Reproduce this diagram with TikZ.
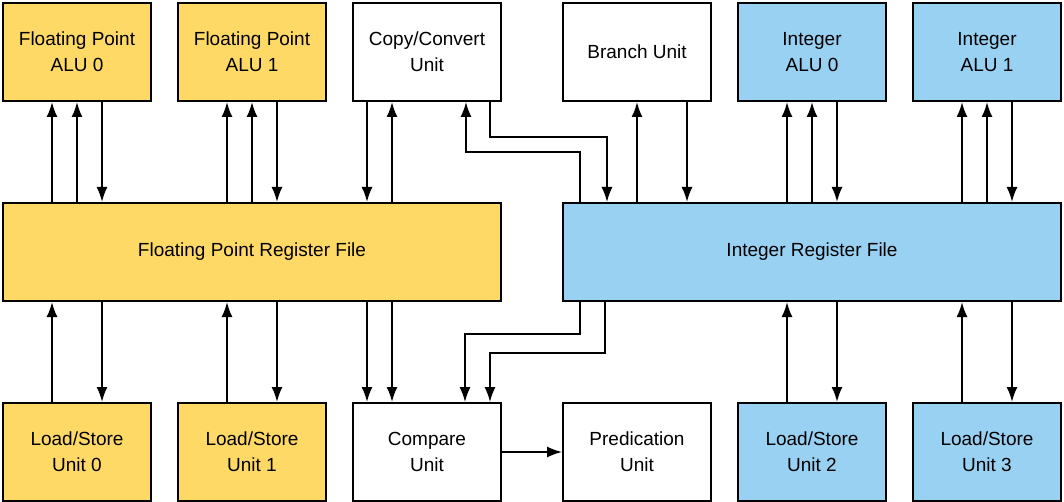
\documentclass[tikz,border=0pt]{standalone}
\usepackage{fontspec}
\setmainfont{Liberation Sans}
\usetikzlibrary{arrows.meta}
\definecolor{fpyel}{HTML}{FFD966}
\definecolor{intblu}{HTML}{99D1F3}

\tikzset{
	unit/.style={draw,line width=2pt,minimum width=148pt,minimum height=98pt,align=center,font=\fontsize{19}{26}\selectfont},
	regf/.style={unit,minimum width=498pt},
	arr/.style={line width=2pt,-{Latex[length=15pt,width=11pt]}},
	wire/.style={line width=1.5pt,-{Latex[length=15pt,width=11pt]}}
}

\begin{document}
\begin{tikzpicture}[x=1pt,y=-1pt]
	\useasboundingbox (0,0) rectangle (1064,502);
	
	% top row
	\node[unit,fill=fpyel] (fa0) at (77,52) {Floating Point\\ALU 0};
	\node[unit,fill=fpyel] (fa1) at (252,52) {Floating Point\\ALU 1};
	\node[unit] (cc) at (427,52) {Copy/Convert\\Unit};
	\node[unit] (br) at (637,52) {Branch Unit};
	\node[unit,fill=intblu] (ia0) at (812,52) {Integer\\ALU 0};
	\node[unit,fill=intblu] (ia1) at (987,52) {Integer\\ALU 1};
	
	% register files
	\node[regf,fill=fpyel] (fprf) at (252,252) {Floating Point Register File};
	\node[regf,fill=intblu] (irf) at (812,252) {Integer Register File};
	
	% bottom row
	\node[unit,fill=fpyel] (ls0) at (77,452) {Load/Store\\Unit 0};
	\node[unit,fill=fpyel] (ls1) at (252,452) {Load/Store\\Unit 1};
	\node[unit] (cmp) at (427,452) {Compare\\Unit};
	\node[unit] (pred) at (637,452) {Predication\\Unit};
	\node[unit,fill=intblu] (ls2) at (812,452) {Load/Store\\Unit 2};
	\node[unit,fill=intblu] (ls3) at (987,452) {Load/Store\\Unit 3};
	
	% ALUs <-> register files
	\foreach \u/\r in {fa0/fprf,fa1/fprf,ia0/irf,ia1/irf}{
		\draw[arr] ([xshift=-25pt]\u.south |- \r.north) -- ([xshift=-25pt]\u.south);
		\draw[arr] (\u.south |- \r.north) -- (\u.south);
		\draw[arr] ([xshift=25pt]\u.south) -- ([xshift=25pt]\u.south |- \r.north);
	}
	% load/store units <-> register files
	\foreach \u/\r in {ls0/fprf,ls1/fprf,ls2/irf,ls3/irf}{
		\draw[arr] ([xshift=-25pt]\u.north) -- ([xshift=-25pt]\u.north |- \r.south);
		\draw[arr] ([xshift=25pt]\u.north |- \r.south) -- ([xshift=25pt]\u.north);
	}
	
	% copy/convert and branch
	\draw[arr] ([xshift=-60pt]cc.south) -- ([xshift=-60pt]cc.south |- fprf.north);
	\draw[arr] ([xshift=-35pt]cc.south |- fprf.north) -- ([xshift=-35pt]cc.south);
	\draw[wire] ([xshift=-232pt]irf.north) |- ++(0,-50) -| ([xshift=39pt]cc.south);
	\draw[wire] ([xshift=63pt]cc.south) |- ++(0,35) -| ([xshift=-205pt]irf.north);
	\draw[arr] (br.south |- irf.north) -- (br.south);
	\draw[arr] ([xshift=50pt]br.south) -- ([xshift=50pt]br.south |- irf.north);
	
	% compare unit
	\draw[arr] ([xshift=-60pt]cmp.north |- fprf.south) -- ([xshift=-60pt]cmp.north);
	\draw[arr] ([xshift=-35pt]cmp.north |- fprf.south) -- ([xshift=-35pt]cmp.north);
	\draw[wire] ([xshift=-232pt]irf.south) |- ++(0,32) -| ([xshift=38pt]cmp.north);
	\draw[wire] ([xshift=-207pt]irf.south) |- ++(0,51) -| ([xshift=63pt]cmp.north);
	\draw[wire] (cmp) -- (pred);
\end{tikzpicture}
\end{document}
